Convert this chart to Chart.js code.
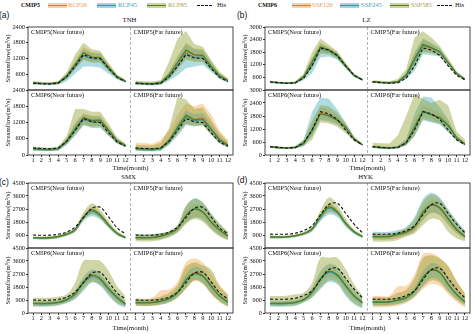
<!DOCTYPE html>
<html>
<head>
<meta charset="utf-8">
<script src="https://cdn.jsdelivr.net/npm/chart.js@4.4.1/dist/chart.umd.min.js"></script>
<style>
body { margin: 0; width: 474px; height: 334px; background: #fff; position: relative; overflow: hidden; font-family: "Liberation Serif", serif; color: #111; }
canvas { position: absolute; }
.t { position: absolute; font-size: 6.6px; line-height: 1; white-space: nowrap; }
.sw { position: absolute; width: 19px; height: 5px; }
.sw i { position: absolute; left: 0; right: 0; top: 1.8px; height: 1.4px; }
.dash { position: absolute; width: 15px; border-top: 1.3px dashed #111; }
.lab { position: absolute; font-family: "Liberation Sans", sans-serif; font-size: 8.5px; line-height: 1; }
.ttl { position: absolute; font-size: 6.8px; line-height: 1; text-align: center; width: 205px; }
</style>
</head>
<body>
<!-- legends -->
<div class="t" style="left:21px;top:2px;font-weight:bold;font-size:6px">CMIP5</div>
<div class="sw" style="left:48px;top:3px;background:rgba(246,170,90,.55)"><i style="background:#e2782c"></i></div>
<div class="t" style="left:68px;top:2px;color:#e89a55">RCP26</div>
<div class="sw" style="left:97px;top:3px;background:rgba(95,185,200,.6)"><i style="background:#2f9aa6"></i></div>
<div class="t" style="left:118px;top:2px;color:#3aa5b5">RCP45</div>
<div class="sw" style="left:147px;top:3px;background:rgba(160,165,70,.5)"><i style="background:#4a7f1e"></i></div>
<div class="t" style="left:168px;top:2px;color:#a3a04a">RCP85</div>
<div class="dash" style="left:197px;top:5px"></div>
<div class="t" style="left:217px;top:2px">His</div>

<div class="t" style="left:258px;top:2px;font-weight:bold;font-size:6px">CMIP6</div>
<div class="sw" style="left:292px;top:3px;background:rgba(246,170,90,.55)"><i style="background:#e2782c"></i></div>
<div class="t" style="left:312px;top:2px;color:#e89a55">SSP126</div>
<div class="sw" style="left:340px;top:3px;background:rgba(95,185,200,.6)"><i style="background:#2f9aa6"></i></div>
<div class="t" style="left:361px;top:2px;color:#3aa5b5">SSP245</div>
<div class="sw" style="left:390px;top:3px;background:rgba(160,165,70,.5)"><i style="background:#4a7f1e"></i></div>
<div class="t" style="left:411px;top:2px;color:#a3a04a">SSP585</div>
<div class="dash" style="left:437px;top:5px"></div>
<div class="t" style="left:455px;top:2px">His</div>

<!-- panel letters and station names -->
<div class="lab" style="left:-1px;top:11px">(a)</div>
<div class="lab" style="left:237px;top:11px">(b)</div>
<div class="lab" style="left:-1px;top:178px">(c)</div>
<div class="lab" style="left:237px;top:176px">(d)</div>
<div class="ttl" style="left:27px;top:17px">TNH</div>
<div class="ttl" style="left:264px;top:17px">LZ</div>
<div class="ttl" style="left:26px;top:174px">SMX</div>
<div class="ttl" style="left:263px;top:174px">HYK</div>

<canvas id="a1" width="237" height="75" style="left:0;top:20px"></canvas>
<canvas id="a2" width="237" height="87" style="left:0;top:85px"></canvas>
<canvas id="b1" width="237" height="75" style="left:237px;top:20px"></canvas>
<canvas id="b2" width="237" height="87" style="left:237px;top:85px"></canvas>
<canvas id="c1" width="237" height="77" style="left:0;top:176px"></canvas>
<canvas id="c2" width="237" height="91" style="left:0;top:243px"></canvas>
<canvas id="d1" width="237" height="77" style="left:237px;top:176px"></canvas>
<canvas id="d2" width="237" height="91" style="left:237px;top:243px"></canvas>

<script>
// months on the x axis (near future 1-12, far future 1-12)
const MONTHS = [1, 2, 3, 4, 5, 6, 7, 8, 9, 10, 11, 12];

// every scenario array is [low, mean, high] in m3/s

// ---- TNH ----
const TNH_HIS = [260, 240, 230, 260, 500, 900, 1350, 1220, 1200, 820, 480, 320];
const TNH_C5_NEAR_26 = [[230,210,200,230,430,780,1150,1050,1050,720,430,290],[270,250,240,270,520,950,1400,1250,1230,850,500,330],[310,290,280,310,610,1120,1650,1450,1420,980,570,370]];
const TNH_C5_NEAR_45 = [[200,190,180,200,330,620,900,900,850,620,400,270],[260,240,230,260,480,880,1300,1180,1170,800,470,320],[310,290,280,310,600,1050,1550,1400,1380,950,560,370]];
const TNH_C5_NEAR_85 = [[230,210,200,230,420,800,1150,1050,1050,720,430,290],[280,260,250,280,540,980,1420,1260,1240,860,510,340],[330,310,300,340,680,1350,1800,1550,1500,1020,600,390]];
const TNH_C5_FAR_26 = [[210,200,190,220,430,800,1200,1100,1080,760,460,300],[260,240,230,270,560,1020,1480,1320,1300,900,540,350],[320,300,290,330,700,1300,1800,1580,1550,1060,630,410]];
const TNH_C5_FAR_45 = [[190,180,170,190,360,560,830,900,950,700,420,280],[250,230,220,250,500,950,1400,1250,1250,860,520,340],[320,300,290,330,680,1250,1750,1550,1520,1050,620,400]];
const TNH_C5_FAR_85 = [[200,190,180,210,420,780,1150,1080,1080,750,450,300],[270,250,240,280,580,1050,1520,1340,1320,910,550,360],[350,330,320,380,1100,1950,2250,1750,1650,1150,700,450]];
const TNH_C6_NEAR_126 = [[170,160,150,170,400,780,1150,1050,1050,730,440,300],[230,210,200,230,500,950,1350,1250,1260,900,520,350],[290,270,250,290,620,1200,1550,1450,1450,1050,600,400]];
const TNH_C6_NEAR_245 = [[160,150,140,160,380,700,1100,1000,1000,700,420,290],[220,200,190,220,480,900,1300,1220,1230,880,510,340],[290,260,250,290,600,1150,1500,1420,1420,1020,590,400]];
const TNH_C6_NEAR_585 = [[170,160,150,170,400,750,1100,1050,1050,720,430,300],[240,220,210,240,520,980,1380,1280,1290,920,530,360],[310,290,270,310,700,1700,1700,1600,1600,1150,650,430]];
const TNH_C6_FAR_126 = [[180,170,160,190,420,750,1150,1100,1100,780,460,300],[250,230,220,260,560,1000,1450,1320,1380,980,580,370],[450,430,420,550,900,1500,1900,1800,1900,1500,900,550]];
const TNH_C6_FAR_245 = [[150,140,130,150,380,700,1100,1050,1100,750,420,280],[220,200,190,220,480,950,1400,1270,1300,930,540,340],[300,280,270,300,650,1200,1650,1500,1550,1150,680,420]];
const TNH_C6_FAR_585 = [[170,160,150,180,400,800,1150,1080,1100,760,440,290],[240,220,210,250,540,1020,1480,1300,1330,950,560,360],[380,360,350,450,1000,2150,2050,1700,1750,1300,800,500]];

// ---- LZ ----
const LZ_HIS = [380, 350, 320, 340, 560, 1150, 2000, 1900, 1650, 1150, 700, 480];
const LZ_C5_NEAR_26 = [[340,310,290,320,540,1050,1750,1700,1500,1050,640,440],[380,350,320,350,620,1300,2020,1900,1650,1150,700,480],[420,390,360,390,720,1550,2250,2050,1800,1250,760,520]];
const LZ_C5_NEAR_45 = [[330,300,280,300,480,800,1550,1600,1450,1020,620,430],[370,340,310,340,580,1200,1950,1850,1600,1120,680,470],[410,380,350,380,680,1500,2200,2000,1750,1220,740,510]];
const LZ_C5_NEAR_85 = [[340,310,290,320,540,1050,1750,1700,1500,1050,640,440],[390,360,330,360,640,1330,2050,1920,1670,1160,710,490],[430,400,370,400,780,1800,2450,2150,1850,1300,770,530]];
const LZ_C5_FAR_26 = [[350,320,300,330,560,1150,1850,1800,1650,1180,720,460],[390,360,340,380,680,1450,2100,1980,1800,1300,780,500],[440,410,390,440,820,1750,2400,2200,1950,1420,840,540]];
const LZ_C5_FAR_45 = [[340,310,290,320,520,900,1700,1650,1600,1150,700,450],[380,350,330,370,650,1380,2120,2000,1800,1290,770,500],[430,400,380,430,800,1800,2450,2250,2000,1430,850,550]];
const LZ_C5_FAR_85 = [[350,320,300,340,560,1100,1800,1750,1650,1180,710,460],[400,370,350,400,720,1500,2180,2020,1830,1310,790,510],[470,440,420,520,1000,2500,2800,2500,2100,1500,900,580]];
const LZ_C6_NEAR_126 = [[330,300,280,310,430,900,1650,1600,1450,1150,680,430],[380,340,320,350,520,1150,1950,1850,1650,1300,750,470],[430,390,360,400,620,1400,2200,2100,1850,1450,820,510]];
const LZ_C6_NEAR_245 = [[320,290,270,300,420,850,1600,1550,1400,1100,660,420],[370,330,310,340,500,1100,1900,1820,1630,1280,740,460],[420,380,350,400,700,2000,2650,2600,2100,1500,850,520]];
const LZ_C6_NEAR_585 = [[330,300,280,300,420,700,1500,1450,1300,1000,640,420],[390,350,330,360,540,1180,1900,1800,1600,1280,740,470],[440,400,370,420,700,1600,2300,2250,1950,1450,830,510]];
const LZ_C6_FAR_126 = [[330,300,280,310,460,950,1750,1650,1500,1200,700,450],[380,340,320,360,560,1250,2000,1870,1720,1370,790,500],[450,410,380,420,700,1600,2300,2150,1950,1550,880,560]];
const LZ_C6_FAR_245 = [[320,290,270,300,440,850,1600,1500,1400,1050,680,430],[370,330,310,350,540,1220,1980,1850,1700,1350,780,490],[440,400,370,420,750,1900,2700,2650,2200,1650,900,580]];
const LZ_C6_FAR_585 = [[330,300,280,310,440,900,1650,1550,1450,1100,690,440],[390,350,330,370,580,1300,2020,1880,1730,1380,800,510],[560,540,530,900,1800,2800,2600,2400,2550,2300,1100,700]];

// ---- SMX ----
const SMX_HIS = [900, 880, 890, 950, 1100, 1450, 2100, 2750, 2820, 2150, 1400, 970];
const SMX_C5_NEAR_26 = [[620,610,630,700,860,1130,1950,2350,2050,1420,900,640],[700,690,710,790,950,1250,2120,2600,2250,1580,1010,720],[780,770,790,870,1040,1370,2300,2850,2450,1740,1110,800]];
const SMX_C5_NEAR_45 = [[600,590,610,680,840,1100,1850,2200,1950,1380,880,620],[690,680,700,780,940,1240,2080,2550,2220,1560,1000,710],[770,760,780,860,1030,1360,2250,2750,2400,1700,1090,790]];
const SMX_C5_NEAR_85 = [[620,610,630,700,860,1130,1950,2350,2050,1420,900,640],[710,700,720,800,960,1270,2150,2650,2280,1600,1030,730],[800,790,810,890,1070,1420,2450,3100,2650,1850,1180,820]];
const SMX_C5_FAR_26 = [[560,550,570,640,820,1150,1800,2150,2000,1400,900,620],[700,690,710,800,980,1330,2230,2680,2450,1780,1220,820],[850,840,860,950,1100,1500,2600,3050,2850,2100,1450,1000]];
const SMX_C5_FAR_45 = [[560,550,570,640,800,1100,1750,2100,1950,1350,880,600],[730,720,740,830,1000,1350,2250,2720,2500,1800,1250,840],[950,940,960,1020,1150,1550,2850,3450,3150,2350,1650,1100]];
const SMX_C5_FAR_85 = [[460,450,470,560,750,1050,1650,2000,1800,1250,800,520],[720,710,730,820,1000,1350,2250,2700,2480,1800,1240,830],[950,940,960,1030,1180,1600,2950,3400,3150,2400,1700,1150]];
const SMX_C6_NEAR_126 = [[520,510,530,600,750,1080,1800,2250,2000,1380,850,480],[660,650,670,730,910,1300,2100,2570,2330,1650,1070,610],[800,790,810,870,1060,1500,2400,2900,2650,1900,1280,760]];
const SMX_C6_NEAR_245 = [[440,430,450,520,680,950,1520,2100,1870,1200,620,370],[640,630,650,710,890,1280,2060,2520,2300,1620,1040,590],[820,810,830,900,1100,1550,2500,3000,2750,2000,1350,800]];
const SMX_C6_NEAR_585 = [[480,470,490,560,720,1000,1650,2150,1950,1300,700,420],[680,670,690,750,930,1320,2150,2620,2380,1680,1100,640],[1060,1050,1070,1130,1290,2100,3600,3650,3600,2900,1870,1180]];
const SMX_C6_FAR_126 = [[480,470,490,560,720,1050,1640,2220,1990,1290,740,420],[740,730,750,840,1020,1430,2320,2800,2600,1900,1200,780],[1000,990,1050,1550,1640,2150,3490,3770,3490,2700,1870,1290]];
const SMX_C6_FAR_245 = [[520,510,530,600,760,1100,1750,2300,2100,1400,850,500],[700,690,710,800,970,1380,2250,2700,2520,1830,1160,740],[880,870,890,980,1180,1650,2700,3200,3000,2200,1450,1000]];
const SMX_C6_FAR_585 = [[500,490,510,580,740,1080,1700,2250,2050,1350,800,460],[720,710,730,820,1000,1410,2290,2750,2560,1870,1180,760],[980,970,990,1150,1400,1950,3200,3500,3300,3000,1900,1250]];

// ---- HYK ----
const HYK_HIS = [960, 950, 960, 1020, 1200, 1550, 2300, 3000, 3100, 2400, 1650, 1050];
const HYK_C5_NEAR_26 = [[680,670,690,760,900,1180,1950,2500,2300,1550,1020,710],[760,750,770,840,990,1300,2150,2800,2480,1700,1120,790],[840,830,850,920,1080,1420,2350,3100,2700,1850,1220,870]];
const HYK_C5_NEAR_45 = [[660,650,670,740,880,1150,1850,2300,2150,1450,970,680],[750,740,760,830,980,1290,2100,2750,2450,1680,1100,780],[840,830,850,920,1080,1420,2300,3000,2650,1830,1200,860]];
const HYK_C5_NEAR_85 = [[680,670,690,760,900,1180,1950,2500,2300,1550,1020,710],[770,760,780,850,1000,1320,2200,2850,2520,1720,1140,800],[860,850,870,940,1100,1500,2600,3500,3000,2050,1300,900]];
const HYK_C5_FAR_26 = [[560,550,570,700,880,1150,1900,2400,2250,1600,1000,600],[760,750,770,900,1050,1420,2420,2950,2750,2000,1260,780],[920,910,930,1050,1250,1700,2800,3300,3100,2300,1500,950]];
const HYK_C5_FAR_45 = [[620,610,630,720,900,1200,1950,2450,2300,1650,1050,650],[820,810,830,960,1130,1480,2480,3000,2800,2050,1300,800],[1120,1110,1130,1250,1460,2140,3370,3820,3490,2700,1910,1240]];
const HYK_C5_FAR_85 = [[450,440,460,560,790,1010,1570,2020,1910,1120,670,450],[790,780,800,940,1100,1460,2470,2970,2770,2030,1280,790],[1000,990,1010,1150,1400,2000,3200,3700,3400,2600,1800,1150]];
const HYK_C6_NEAR_126 = [[560,550,570,620,780,1180,1950,2500,2300,1550,950,540],[660,650,670,730,910,1420,2340,2850,2620,1880,1190,700],[780,770,790,850,1050,1650,2700,3200,2950,2150,1400,850]];
const HYK_C6_NEAR_245 = [[440,430,450,490,720,1060,1640,2150,1990,1180,600,300],[640,630,650,710,890,1400,2300,2800,2580,1850,1160,680],[850,840,860,920,1100,1750,2900,3400,3200,2350,1550,950]];
const HYK_C6_NEAR_585 = [[480,470,490,530,740,1100,1750,2250,2100,1300,700,380],[680,670,690,750,930,1440,2380,2880,2650,1910,1210,720],[1180,1170,1190,1290,1410,2100,3830,3830,3830,3030,1990,1220]];
const HYK_C6_FAR_126 = [[400,390,410,500,690,1080,1660,2000,1880,1300,780,380],[780,770,790,920,1080,1540,2480,3030,2850,2020,1310,780],[1180,1170,1190,1830,1870,2680,4070,4140,3830,3260,2220,1410]];
const HYK_C6_FAR_245 = [[560,550,570,640,820,1200,1900,2400,2250,1550,1000,580],[740,730,750,860,1040,1500,2420,2950,2780,1970,1270,750],[950,940,960,1080,1250,1800,2900,3450,3250,2400,1550,1000]];
const HYK_C6_FAR_585 = [[500,490,510,600,780,1150,1800,2250,2100,1450,900,500],[760,750,770,890,1060,1520,2450,2980,2800,1990,1290,760],[1100,1090,1110,1400,1600,2400,3800,4000,3750,3250,2200,1350]];

// layout of the shared time axis: far future months sit after the near ones
const FAR_SHIFT = 12.2;
const DIVIDER = 12.6;
const X_TICKS = MONTHS.concat(MONTHS.map(m => m + FAR_SHIFT));

// scenario colours: low emission (orange), middle (teal), high (olive)
const BAND = ['rgba(246,170,90,0.45)', 'rgba(95,185,200,0.5)', 'rgba(140,155,40,0.42)'];
const LINE = ['#e2782c', '#2f9aa6', '#4a7f1e'];

Chart.defaults.font.family = '"Liberation Serif", serif';
Chart.defaults.color = '#111';

function pts(arr, shift) {
    return arr.map((v, i) => ({ x: MONTHS[i] + shift, y: v }));
}

function rowDatasets(his, near, far, tension) {
    const sets = [];
    [[near, 0], [far, FAR_SHIFT]].forEach(([period, shift]) => {
        period.forEach((s, k) => {
            sets.push({ data: pts(s[0], shift), borderWidth: 0, borderColor: 'rgba(0,0,0,0)', pointRadius: 0, fill: false, tension: tension, order: 20 - k });
            sets.push({ data: pts(s[2], shift), borderWidth: 0, borderColor: 'rgba(0,0,0,0)', pointRadius: 0, fill: '-1', backgroundColor: BAND[k], tension: tension, order: 20 - k });
        });
        period.forEach((s, k) => {
            sets.push({ data: pts(s[1], shift), borderColor: LINE[k], borderWidth: 1.1, pointRadius: 0, fill: false, tension: tension, order: 5 - k });
        });
        sets.push({ data: pts(his, shift), borderColor: '#111', borderWidth: 1.1, borderDash: [3, 2], pointRadius: 0, fill: false, tension: tension, order: 0 });
    });
    return sets;
}

// box round each row, dashed near/far divider and the row captions
const framePlugin = {
    id: 'frame',
    beforeDatasetsDraw(chart) {
        const { ctx, chartArea: a, scales: { x } } = chart;
        const xm = x.getPixelForValue(DIVIDER);
        ctx.save();
        ctx.strokeStyle = '#a0a0a0';
        ctx.lineWidth = 0.8;
        ctx.setLineDash([3, 2]);
        ctx.beginPath();
        ctx.moveTo(xm, a.top);
        ctx.lineTo(xm, a.bottom);
        ctx.stroke();
        ctx.restore();
    },
    afterDatasetsDraw(chart, args, opts) {
        const { ctx, chartArea: a, scales: { x } } = chart;
        const xm = x.getPixelForValue(DIVIDER);
        ctx.save();
        ctx.strokeStyle = '#333';
        ctx.lineWidth = 0.9;
        ctx.strokeRect(a.left, a.top, a.right - a.left, a.bottom - a.top);
        ctx.fillStyle = '#111';
        ctx.font = '6.5px "Liberation Serif"';
        ctx.textBaseline = 'top';
        ctx.fillText(opts.tag + '(Near future)', a.left + 3, a.top + 2);
        ctx.fillText(opts.tag + '(Far future)', xm + 3, a.top + 2);
        ctx.restore();
    }
};

function rowChart(id, cfg) {
    new Chart(document.getElementById(id), {
        type: 'line',
        data: { datasets: rowDatasets(cfg.his, cfg.near, cfg.far, cfg.tension) },
        options: {
            responsive: false,
            animation: false,
            events: [],
            layout: { padding: cfg.pad },
            scales: {
                x: {
                    type: 'linear',
                    min: 0.4,
                    max: 24.8,
                    display: cfg.bottom,
                    afterBuildTicks: s => { s.ticks = X_TICKS.map(v => ({ value: v })); },
                    afterFit: s => { if (cfg.bottom) s.height = cfg.xh; },
                    ticks: {
                        autoSkip: false, maxRotation: 0, padding: 0,
                        font: { size: 6.3 },
                        callback: (v, i) => MONTHS[i % 12]
                    },
                    grid: { drawOnChartArea: false, tickLength: 2, color: '#333' },
                    border: { display: false },
                    title: { display: true, text: 'Time(month)', font: { size: 6.8 }, padding: { top: 0, bottom: cfg.tpad || 0 } }
                },
                y: {
                    min: 0,
                    max: cfg.yMax,
                    afterFit: s => { s.width = 28; },
                    ticks: {
                        stepSize: cfg.yStep, padding: 1,
                        font: { size: 6.3 },
                        callback: v => (cfg.bottom || v !== 0) ? v : ''
                    },
                    grid: { drawOnChartArea: false, tickLength: 2, color: '#333' },
                    border: { display: false },
                    title: { display: true, text: 'Streamflow(m³/s)', font: { size: 6.8 }, padding: { top: 4, bottom: 0 } }
                }
            },
            plugins: {
                legend: { display: false },
                tooltip: { enabled: false },
                frame: { tag: cfg.tag }
            }
        },
        plugins: [framePlugin]
    });
}

const TOP_PAD = { top: 7, right: 4, bottom: 5, left: 0 };
const BOT_PAD = { top: 5, right: 4, bottom: 0, left: 0 };

rowChart('a1', { tag: 'CMIP5', his: TNH_HIS, near: [TNH_C5_NEAR_26, TNH_C5_NEAR_45, TNH_C5_NEAR_85], far: [TNH_C5_FAR_26, TNH_C5_FAR_45, TNH_C5_FAR_85], yMax: 2400, yStep: 600, tension: 0, bottom: false, pad: TOP_PAD });
rowChart('a2', { tag: 'CMIP6', his: TNH_HIS, near: [TNH_C6_NEAR_126, TNH_C6_NEAR_245, TNH_C6_NEAR_585], far: [TNH_C6_FAR_126, TNH_C6_FAR_245, TNH_C6_FAR_585], yMax: 2400, yStep: 600, tension: 0, bottom: true, xh: 17, tpad: 0, pad: BOT_PAD });
rowChart('b1', { tag: 'CMIP5', his: LZ_HIS, near: [LZ_C5_NEAR_26, LZ_C5_NEAR_45, LZ_C5_NEAR_85], far: [LZ_C5_FAR_26, LZ_C5_FAR_45, LZ_C5_FAR_85], yMax: 3000, yStep: 600, tension: 0, bottom: false, pad: TOP_PAD });
rowChart('b2', { tag: 'CMIP6', his: LZ_HIS, near: [LZ_C6_NEAR_126, LZ_C6_NEAR_245, LZ_C6_NEAR_585], far: [LZ_C6_FAR_126, LZ_C6_FAR_245, LZ_C6_FAR_585], yMax: 3000, yStep: 600, tension: 0, bottom: true, xh: 17, tpad: 0, pad: BOT_PAD });
rowChart('c1', { tag: 'CMIP5', his: SMX_HIS, near: [SMX_C5_NEAR_26, SMX_C5_NEAR_45, SMX_C5_NEAR_85], far: [SMX_C5_FAR_26, SMX_C5_FAR_45, SMX_C5_FAR_85], yMax: 4500, yStep: 900, tension: 0.35, bottom: false, pad: TOP_PAD });
rowChart('c2', { tag: 'CMIP6', his: SMX_HIS, near: [SMX_C6_NEAR_126, SMX_C6_NEAR_245, SMX_C6_NEAR_585], far: [SMX_C6_FAR_126, SMX_C6_FAR_245, SMX_C6_FAR_585], yMax: 4500, yStep: 900, tension: 0.35, bottom: true, xh: 21, tpad: 2, pad: BOT_PAD });
rowChart('d1', { tag: 'CMIP5', his: HYK_HIS, near: [HYK_C5_NEAR_26, HYK_C5_NEAR_45, HYK_C5_NEAR_85], far: [HYK_C5_FAR_26, HYK_C5_FAR_45, HYK_C5_FAR_85], yMax: 4500, yStep: 900, tension: 0.35, bottom: false, pad: TOP_PAD });
rowChart('d2', { tag: 'CMIP6', his: HYK_HIS, near: [HYK_C6_NEAR_126, HYK_C6_NEAR_245, HYK_C6_NEAR_585], far: [HYK_C6_FAR_126, HYK_C6_FAR_245, HYK_C6_FAR_585], yMax: 4500, yStep: 900, tension: 0.35, bottom: true, xh: 21, tpad: 2, pad: BOT_PAD });
</script>
</body>
</html>
